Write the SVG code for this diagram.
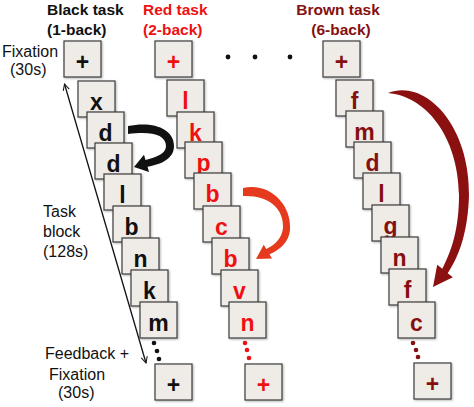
<svg xmlns="http://www.w3.org/2000/svg" width="474" height="407" viewBox="0 0 474 407">
<style>
.card rect{fill:#EFECE7;stroke:#3C3C3C;stroke-width:1.2;filter:url(#sh)}
.card text{font-family:"Liberation Sans",Arial,sans-serif;font-weight:bold;font-size:23px;text-anchor:middle}
.blk text{fill:#111}
.red text{fill:#EE1111}
.brn text{fill:#851010}
.hdr{font-family:"Liberation Sans",Arial,sans-serif;font-weight:bold;font-size:15.5px}
.lbl{font-family:"Liberation Sans",Arial,sans-serif;font-size:16px;fill:#111}
</style>
<defs>
<filter id="sh" x="-20%" y="-20%" width="150%" height="150%">
<feDropShadow dx="1" dy="1" stdDeviation="0.8" flood-color="#000" flood-opacity="0.3"/>
</filter>
<marker id="v" viewBox="0 0 10 10" refX="9" refY="5" markerWidth="6" markerHeight="6" orient="auto-start-reverse" markerUnits="strokeWidth">
<path d="M1,1 L9,5 L1,9" fill="none" stroke="#111" stroke-width="1.3"/>
</marker>
</defs>
<rect width="474" height="407" fill="#fff"/>

<g id="headers">
<text class="hdr" x="47" y="15" fill="#111">Black task</text>
<text class="hdr" x="47" y="34.5" fill="#111">(1-back)</text>
<text class="hdr" x="143" y="15" fill="#EE1111">Red task</text>
<text class="hdr" x="143" y="34.5" fill="#EE1111">(2-back)</text>
<text class="hdr" x="338" y="15" fill="#851010" text-anchor="middle">Brown task</text>
<text class="hdr" x="341" y="34.5" fill="#851010" text-anchor="middle">(6-back)</text>
</g>

<g id="labels">
<text class="lbl" x="2" y="57">Fixation</text>
<text class="lbl" x="10" y="75">(30s)</text>
<text class="lbl" x="43" y="217">Task</text>
<text class="lbl" x="43" y="237">block</text>
<text class="lbl" x="43" y="257">(128s)</text>
<text class="lbl" x="45" y="359">Feedback +</text>
<text class="lbl" x="49" y="380">Fixation</text>
<text class="lbl" x="58" y="398">(30s)</text>
</g>

<g id="connectors">
<line x1="146" y1="363" x2="64.5" y2="84" stroke="#111" stroke-width="1.3" marker-start="url(#v)" marker-end="url(#v)"/>
<path id="arrow-black" fill="#111" d="M128,126 C152,121 174,128 174,146 C174,158 163,164 147.5,166.8 L149,172 L134,167 L144,154.8 L145.5,160 C158,157 166,153 166,146 C166,134 150,131 128,134 Z"/>
<path id="arrow-red" fill="#E63A1E" d="M243,188 C270,182 292,205 290,230 C289,242 280,250 269.5,254.2 L272.1,258.4 L256,259 L263.7,244.8 L266.3,249 C275,245 282,238 283,228 C284,208 268,195 243,196 Z"/>
<path id="arrow-brown" fill="#8B1010" d="M388,93 C425,78 470,125 469,195 C468,230 460,255 447.7,273.2 L452.8,277.2 L433,287 L437.2,264.8 L442.3,268.8 C452,250 459,228 459,195 C458,135 425,96 388,93 Z"/>
</g>

<g id="ellipses">
<circle cx="228" cy="57" r="2.4" fill="#111"/>
<circle cx="255" cy="57" r="2.4" fill="#111"/>
<circle cx="290" cy="57" r="2.4" fill="#111"/>
<circle cx="154" cy="343" r="2.3" fill="#111"/>
<circle cx="157" cy="351" r="2.3" fill="#111"/>
<circle cx="159" cy="359" r="2.3" fill="#111"/>
<circle cx="245" cy="343" r="2.3" fill="#EE1111"/>
<circle cx="247" cy="350" r="2.3" fill="#EE1111"/>
<circle cx="249" cy="358" r="2.3" fill="#EE1111"/>
<circle cx="413" cy="343" r="2.3" fill="#851010"/>
<circle cx="416" cy="350" r="2.3" fill="#851010"/>
<circle cx="418" cy="357" r="2.3" fill="#851010"/>
</g>

<g id="black-column" class="card blk">
<g id="b0"><rect x="64" y="41" width="37" height="36"/><text x="82.5" y="70">+</text></g>
<g id="b1"><rect x="78" y="81" width="37" height="36"/><text x="96.5" y="110">x</text></g>
<g id="b2"><rect x="87" y="112" width="37" height="36"/><text x="105.5" y="141">d</text></g>
<g id="b3"><rect x="95" y="143" width="37" height="36"/><text x="113.5" y="172">d</text></g>
<g id="b4"><rect x="104" y="174" width="37" height="36"/><text x="122.5" y="203">l</text></g>
<g id="b5"><rect x="113" y="206" width="37" height="36"/><text x="131.5" y="235">b</text></g>
<g id="b6"><rect x="122" y="238" width="37" height="36"/><text x="140.5" y="267">n</text></g>
<g id="b7"><rect x="131" y="270" width="37" height="36"/><text x="149.5" y="299">k</text></g>
<g id="b8"><rect x="140" y="302" width="37" height="36"/><text x="158.5" y="331">m</text></g>
<g id="b9"><rect x="155" y="364" width="37" height="36"/><text x="173.5" y="393">+</text></g>
</g>

<g id="red-column" class="card red">
<g id="r0"><rect x="155" y="41" width="37" height="36"/><text x="173.5" y="70">+</text></g>
<g id="r1"><rect x="167" y="80" width="37" height="36"/><text x="185.5" y="109">l</text></g>
<g id="r2"><rect x="177" y="112" width="37" height="36"/><text x="195.5" y="141">k</text></g>
<g id="r3"><rect x="185" y="142" width="37" height="36"/><text x="203.5" y="171">p</text></g>
<g id="r4"><rect x="194" y="173" width="37" height="36"/><text x="212.5" y="202">b</text></g>
<g id="r5"><rect x="203" y="206" width="37" height="36"/><text x="221.5" y="235">c</text></g>
<g id="r6"><rect x="212" y="238" width="37" height="36"/><text x="230.5" y="267">b</text></g>
<g id="r7"><rect x="221" y="270" width="37" height="36"/><text x="239.5" y="299">v</text></g>
<g id="r8"><rect x="229" y="302" width="37" height="36"/><text x="247.5" y="331">n</text></g>
<g id="r9"><rect x="245" y="364" width="37" height="36"/><text x="263.5" y="393">+</text></g>
</g>

<g id="brown-column" class="card brn">
<g id="w0"><rect x="323" y="41" width="37" height="36"/><text x="341.5" y="70">+</text></g>
<g id="w1"><rect x="336" y="80" width="37" height="36"/><text x="354.5" y="109">f</text></g>
<g id="w2"><rect x="346" y="111" width="37" height="36"/><text x="364.5" y="140">m</text></g>
<g id="w3"><rect x="354" y="142" width="37" height="36"/><text x="372.5" y="171">d</text></g>
<g id="w4"><rect x="363" y="173" width="37" height="36"/><text x="381.5" y="202">l</text></g>
<g id="w5"><rect x="372" y="205" width="37" height="36"/><text x="390.5" y="234">g</text></g>
<g id="w6"><rect x="381" y="237" width="37" height="36"/><text x="399.5" y="266">n</text></g>
<g id="w7"><rect x="389" y="269" width="37" height="36"/><text x="407.5" y="298">f</text></g>
<g id="w8"><rect x="398" y="302" width="37" height="36"/><text x="416.5" y="331">c</text></g>
<g id="w9"><rect x="414" y="363" width="37" height="36"/><text x="432.5" y="392">+</text></g>
</g>
</svg>
